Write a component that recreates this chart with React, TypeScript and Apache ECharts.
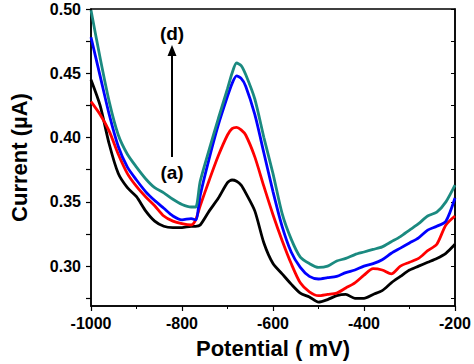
import React, { useEffect, useRef } from "react";
import * as echarts from "echarts";

const potentials = [
  -1000, -980, -960, -940, -920, -900, -880, -860, -840, -820, -800, -780, -770, -760, -740, -720, -700,
  -690, -680, -670, -660, -640, -620, -600, -580, -560, -540, -520, -500, -480, -460, -440, -420, -400,
  -380, -360, -340, -320, -300, -280, -260, -240, -220, -200,
];

const curveA = [
  0.445, 0.425, 0.395, 0.372, 0.361, 0.354, 0.343, 0.335, 0.331, 0.330, 0.330, 0.331, 0.331, 0.332, 0.343, 0.353, 0.365,
  0.367, 0.366, 0.363, 0.357, 0.343, 0.318, 0.302, 0.294, 0.286, 0.279, 0.276, 0.272, 0.274, 0.277, 0.278, 0.275, 0.275,
  0.278, 0.281, 0.287, 0.292, 0.297, 0.300, 0.303, 0.306, 0.310, 0.317,
];
const curveB = [
  0.428, 0.418, 0.405, 0.387, 0.372, 0.362, 0.354, 0.347, 0.339, 0.335, 0.333, 0.332, 0.336, 0.347, 0.367, 0.386, 0.402,
  0.407, 0.408, 0.406, 0.402, 0.385, 0.362, 0.340, 0.320, 0.302, 0.287, 0.280, 0.277, 0.278, 0.279, 0.283, 0.287, 0.293,
  0.298, 0.297, 0.294, 0.300, 0.303, 0.306, 0.312, 0.317, 0.332, 0.339,
];
const curveC = [
  0.478, 0.448, 0.418, 0.393, 0.377, 0.367, 0.358, 0.351, 0.345, 0.339, 0.336, 0.337, 0.336, 0.355, 0.384, 0.410, 0.432,
  0.442, 0.448, 0.446, 0.440, 0.418, 0.388, 0.358, 0.331, 0.311, 0.299, 0.292, 0.290, 0.291, 0.292, 0.295, 0.297, 0.300,
  0.302, 0.305, 0.310, 0.314, 0.318, 0.322, 0.328, 0.331, 0.335, 0.353,
];
const curveD = [
  0.499, 0.462, 0.428, 0.402, 0.387, 0.377, 0.368, 0.361, 0.357, 0.352, 0.348, 0.346, 0.346, 0.366, 0.391, 0.415, 0.438,
  0.450, 0.458, 0.456, 0.449, 0.430, 0.400, 0.372, 0.341, 0.321, 0.307, 0.302, 0.299, 0.300, 0.304, 0.306, 0.309, 0.311,
  0.313, 0.315, 0.319, 0.323, 0.328, 0.333, 0.339, 0.342, 0.350, 0.363,
];

const yLabels = [0.3, 0.35, 0.4, 0.45, 0.5];
const yTicks = [0.275, 0.3, 0.325, 0.35, 0.375, 0.4, 0.425, 0.45, 0.475, 0.5];

const seriesDefs = [
  { name: "(a)", values: curveA, color: "#000000" },
  { name: "(b)", values: curveB, color: "#ff0000" },
  { name: "(c)", values: curveC, color: "#0000ff" },
  { name: "(d)", values: curveD, color: "#1b8a80" },
];

const FONT = "Liberation Sans, Arial, sans-serif";

export default function App() {
  const ref = useRef<HTMLDivElement>(null);
  useEffect(() => {
    if (!ref.current) return;
    const chart = echarts.init(ref.current, null, { renderer: "svg" });
    const axisLine = { show: true, lineStyle: { color: "#000", width: 1.5 } };
    chart.setOption({
      animation: false,
      backgroundColor: "#fff",
      grid: { left: 76, right: 18, top: 9, bottom: 55, show: true, borderColor: "#000", borderWidth: 1.5 },
      xAxis: {
        type: "value",
        min: -1000,
        max: -200,
        interval: 200,
        name: "Potential ( mV)",
        nameLocation: "middle",
        nameGap: 31,
        nameTextStyle: { fontFamily: FONT, fontWeight: "bold", fontSize: 22, color: "#000" },
        axisLine,
        axisTick: { show: true, inside: false, length: 5, lineStyle: { color: "#000", width: 1.2 } },
        minorTick: { show: true, splitNumber: 2, length: 3, lineStyle: { color: "#000", width: 1 } },
        axisLabel: {
          fontFamily: FONT,
          fontWeight: "bold",
          fontSize: 16,
          color: "#000",
          margin: 9,
          formatter: (v: number) => String(v),
        },
        splitLine: { show: false },
      },
      yAxis: [
        {
          type: "value",
          min: 0.269,
          max: 0.5,
          name: "Current (µA)",
          nameLocation: "middle",
          nameGap: 61,
          nameRotate: 90,
          nameTextStyle: { fontFamily: FONT, fontWeight: "bold", fontSize: 22, color: "#000" },
          axisLine,
          axisTick: {
            show: true,
            length: 5,
            customValues: yTicks,
            lineStyle: { color: "#000", width: 1.2 },
          },
          axisLabel: {
            fontFamily: FONT,
            fontWeight: "bold",
            fontSize: 16,
            color: "#000",
            margin: 10,
            customValues: yLabels,
            formatter: (v: number) => v.toFixed(2),
          },
          splitLine: { show: false },
        },
        {
          type: "value",
          position: "right",
          min: 0.269,
          max: 0.5,
          axisLine,
          axisTick: {
            show: true,
            inside: true,
            length: 4,
            customValues: yTicks,
            lineStyle: { color: "#000", width: 1 },
          },
          axisLabel: { show: false },
          splitLine: { show: false },
        },
      ],
      series: seriesDefs.map((s) => ({
        name: s.name,
        type: "line",
        data: potentials.map((p, i) => [p, s.values[i]]),
        showSymbol: false,
        smooth: 0.25,
        lineStyle: { color: s.color, width: 2.8 },
        itemStyle: { color: s.color },
        z: 2,
      })),
      graphic: [
        { type: "line", shape: { x1: 172, y1: 157, x2: 172, y2: 54 }, style: { stroke: "#000", lineWidth: 2 } },
        { type: "polygon", shape: { points: [[172, 45], [167.5, 56], [176.5, 56]] }, style: { fill: "#000" } },
        {
          type: "text",
          x: 172,
          y: 33,
          style: { text: "(d)", fontFamily: FONT, fontWeight: "bold", fontSize: 19, fill: "#000", align: "center", verticalAlign: "middle" },
        },
        {
          type: "text",
          x: 172,
          y: 172,
          style: { text: "(a)", fontFamily: FONT, fontWeight: "bold", fontSize: 19, fill: "#000", align: "center", verticalAlign: "middle" },
        },
      ],
    });
    return () => chart.dispose();
  }, []);
  return <div ref={ref} style={{ width: 474, height: 364, position: "absolute", left: 0, top: 0 }} />;
}
